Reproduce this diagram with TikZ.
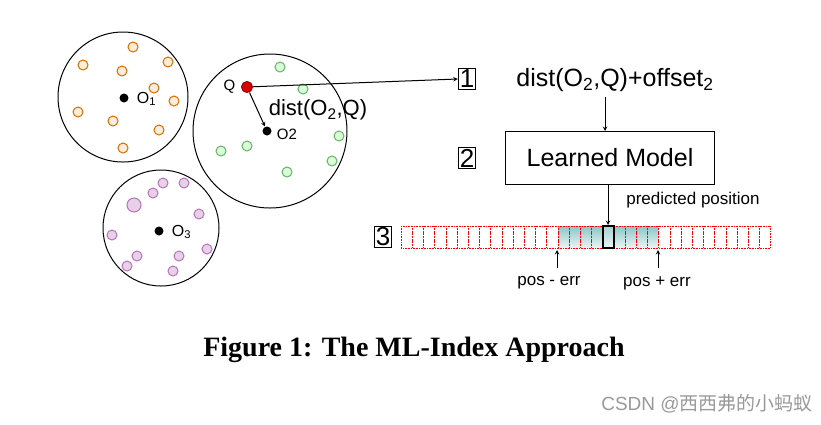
\documentclass[tikz,border=0pt]{standalone}
\usepackage{fontspec}
\setmainfont{Liberation Sans}
\newfontfamily\capfont{Liberation Serif}
\newfontfamily\cjk{Noto Sans CJK SC}
\begin{document}
\begin{tikzpicture}[x=1pt,y=-1pt,line width=1pt,
 od/.style={circle,draw=orange!85!black,fill=orange!15,minimum size=10pt,inner sep=0pt},
 gd/.style={circle,draw=green!50!black!60,fill=green!15,minimum size=10pt,inner sep=0pt},
 pd/.style={circle,draw=violet!55,fill=violet!18,minimum size=10pt,inner sep=0pt},
 bd/.style={circle,fill=black,minimum size=9pt,inner sep=0pt},
 numbox/.style={draw,inner sep=1.5pt,font=\fontsize{26}{28}\selectfont},
 arr/.style={->,>=stealth}]
\useasboundingbox (0,0) rectangle (821,424);
% clusters
\node[draw,circle,minimum size=130pt] (c1) at (123,97) {};
\node[draw,circle,minimum size=154pt] (c2) at (270,131) {};
\node[draw,circle,minimum size=116pt] (c3) at (161,228) {};
\foreach \p in {(133,47),(83,65),(122,71),(168,62),(154,88),(174,101),(78,112),(113,121),(159,130),(123,148)} \node[od] at \p {};
\foreach \p in {(280,67),(303,89),(339,136),(247,146),(221,151),(287,172),(332,161)} \node[gd] at \p {};
\foreach \p in {(163,183),(184,183),(153,193),(199,214),(112,235),(207,249),(137,256),(179,256),(127,266),(173,271)} \node[pd] at \p {};
\node[pd,minimum size=14pt] at (134,205) {};
\node[bd] (o1) at (124,98) {};
\node[bd] (o2) at (267,131) {};
\node[bd] (o3) at (159,231) {};
\node[anchor=west,font=\fontsize{16}{18}\selectfont] at (133,99) {O\textsubscript{1}};
\node[anchor=west,font=\fontsize{15}{17}\selectfont] at (273,134) {O2};
\node[anchor=west,font=\fontsize{16}{18}\selectfont] at (168,232) {O\textsubscript{3}};
\node[circle,draw=red!60!black,fill=red!85!black,minimum size=11pt,inner sep=0pt] (q) at (247,87) {};
\node[anchor=east,font=\fontsize{15}{17}\selectfont] at (239,87) {Q};
\draw[arr] (q) -- (o2);
\node[font=\fontsize{22}{24}\selectfont] at (318,110) {dist(O\textsubscript{2},Q)};
% right side
\node[numbox] (n1) at (467,79) {1};
\node[numbox] (n2) at (467,158) {2};
\node[numbox] (n3) at (383,237) {3};
\draw[arr] (q) -- (n1.west);
\node[font=\fontsize{25}{27}\selectfont] (dq) at (615,80) {dist(O\textsubscript{2},Q)+offset\textsubscript{2}};
\node[draw,minimum width=209pt,minimum height=53pt,font=\fontsize{25}{27}\selectfont] (lm) at (610,158) {Learned Model};
\coordinate (dqb) at (605,97);
\draw[arr] (dqb) -- (dqb |- lm.north);
% array
\shade[top color=teal!45,bottom color=teal!8] (558,226) rectangle (658,248);
\foreach \i in {0,...,32} \draw[red,densely dotted,line width=0.6pt] (401+\i*11.2,226) rectangle ++(11.2,22);
\node[draw,line width=2pt,minimum width=11pt,minimum height=22pt,inner sep=0pt,top color=teal!35,bottom color=teal!8] (pp) at (608,237) {};
\draw[arr] (lm.south -| pp) -- (pp.north);
\node[font=\fontsize{17}{19}\selectfont] at (693,200) {predicted position};
\coordinate (e1) at (557,250); \coordinate (e2) at (658,250);
\draw[arr] (557,268) -- (e1);
\draw[arr] (658,268) -- (e2);
\node[font=\fontsize{17}{19}\selectfont] at (549,283) {pos - err};
\node[font=\fontsize{17}{19}\selectfont] at (657,283) {pos + err};
\node[font=\capfont\bfseries\fontsize{28}{30}\selectfont] at (414,350) {Figure 1: The ML-Index Approach};
\node[text=gray!80,font=\fontsize{19}{21}\selectfont] at (707,404) {CSDN @{\cjk 西西弗的小蚂蚁}};
\end{tikzpicture}
\end{document}
